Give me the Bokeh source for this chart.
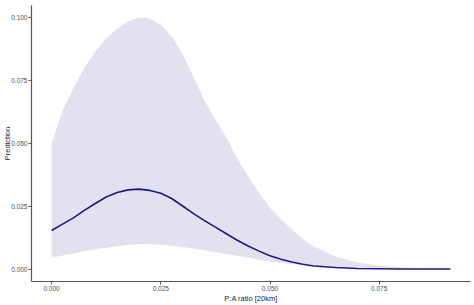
from bokeh.plotting import figure
from bokeh.models import FixedTicker, PrintfTickFormatter, Range1d, ColumnDataSource
from bokeh.embed import file_html
from bokeh.resources import INLINE

# P:A ratio values (x) and predictions
pa_ratio = [0.0, 0.0025, 0.005, 0.0075, 0.010, 0.0125, 0.015, 0.0175, 0.020, 0.0225,
            0.025, 0.0275, 0.030, 0.0325, 0.035, 0.0375, 0.040, 0.0425, 0.045, 0.0475,
            0.050, 0.0525, 0.055, 0.0575, 0.060, 0.065, 0.070, 0.075, 0.080, 0.085, 0.0913]
prediction = [0.0155, 0.0180, 0.0205, 0.0235, 0.0262, 0.0288, 0.0306, 0.0316, 0.0319, 0.0314,
              0.0303, 0.0282, 0.0252, 0.0222, 0.0194, 0.0168, 0.0142, 0.0116, 0.0093, 0.0073,
              0.0055, 0.0041, 0.0030, 0.0021, 0.0014, 0.0008, 0.0004, 0.0003, 0.0002, 0.0002, 0.0002]
lower = [0.0047, 0.0056, 0.0064, 0.0073, 0.0080, 0.0086, 0.0092, 0.0097, 0.0100, 0.0101,
         0.0098, 0.0094, 0.0089, 0.0083, 0.0076, 0.0069, 0.0062, 0.0055, 0.0048, 0.0039,
         0.0031, 0.0026, 0.0022, 0.0018, 0.0015, 0.0010, 0.0007, 0.0005, 0.0004, 0.0003, 0.0003]
upper = [0.0500, 0.0630, 0.0720, 0.0800, 0.0865, 0.0918, 0.0955, 0.0985, 0.1000, 0.0996,
         0.0972, 0.0925, 0.0855, 0.0765, 0.0670, 0.0595, 0.0524, 0.0440, 0.0370, 0.0305,
         0.0245, 0.0200, 0.0160, 0.0120, 0.0092, 0.0052, 0.0028, 0.0016, 0.0009, 0.0005, 0.0004]

x_ticks = [0.0, 0.025, 0.05, 0.075]
y_ticks = [0.0, 0.025, 0.05, 0.075, 0.1]

src = ColumnDataSource(dict(x=pa_ratio, y=prediction, lo=lower, hi=upper))

p = figure(width=474, height=305, output_backend="svg", toolbar_location=None,
           x_range=Range1d(-0.0046, 0.0959), y_range=Range1d(-0.00476, 0.1048),
           min_border_left=10, min_border_right=4, min_border_top=5, min_border_bottom=10)

p.varea(x="x", y1="lo", y2="hi", source=src, fill_color="#e1e1f0", fill_alpha=1.0)
p.line(x="x", y="y", source=src, line_color="#1b1b7e", line_width=1.6)

p.xgrid.visible = False
p.ygrid.visible = False
p.outline_line_color = None

p.xaxis.ticker = FixedTicker(ticks=x_ticks)
p.yaxis.ticker = FixedTicker(ticks=y_ticks)
p.xaxis.formatter = PrintfTickFormatter(format="%.3f")
p.yaxis.formatter = PrintfTickFormatter(format="%.3f")
p.xaxis.axis_label = "P:A ratio [20km]"
p.yaxis.axis_label = "Prediction"

for ax in (p.xaxis[0], p.yaxis[0]):
    ax.axis_line_color = "#555555"
    ax.axis_line_width = 1.2
    ax.major_tick_line_color = "#555555"
    ax.major_tick_in = 0
    ax.major_tick_out = 3
    ax.minor_tick_line_color = None
    ax.major_label_text_font = "Liberation Sans"
    ax.major_label_text_font_size = "6.5px"
    ax.major_label_text_color = "#4d4d4d"
    ax.major_label_standoff = 1
    ax.axis_label_text_font = "Liberation Sans"
    ax.axis_label_text_font_size = "7.5px"
    ax.axis_label_text_font_style = "normal"
    ax.axis_label_text_color = "#222222"
    ax.axis_label_standoff = 0

p.yaxis[0].axis_label_standoff = -4

open("out.html", "w").write(file_html(p, INLINE))
